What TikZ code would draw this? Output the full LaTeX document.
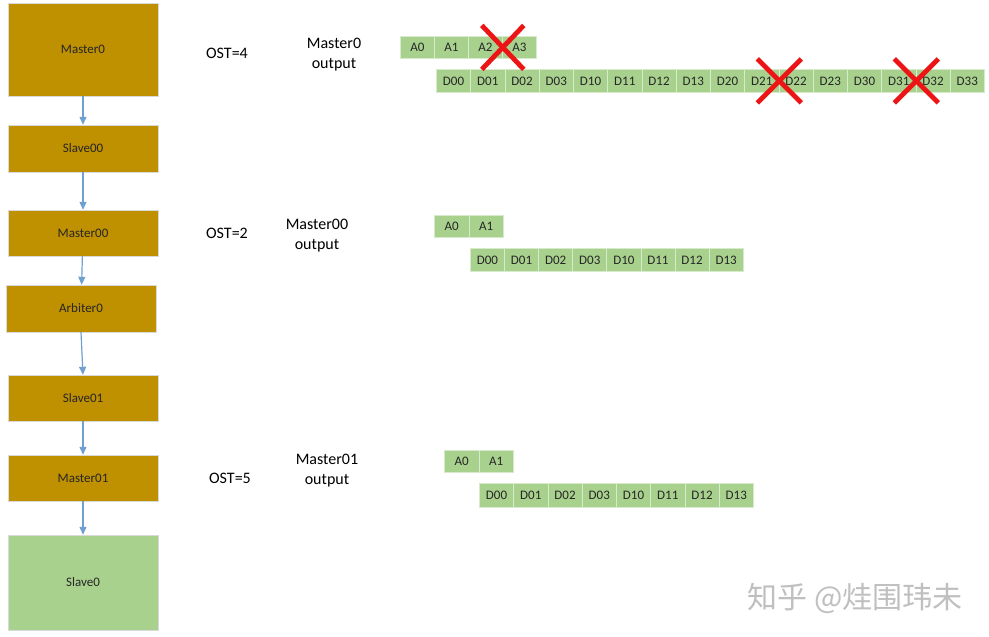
\documentclass[tikz,border=0pt]{standalone}
\usepackage{fontspec}
\setmainfont{Carlito}
\newfontfamily\cjk{Noto Sans CJK SC}
\usetikzlibrary{arrows.meta}
\definecolor{gold}{RGB}{191,144,0}
\definecolor{lgreen}{RGB}{169,209,142}
\definecolor{arrowblue}{RGB}{112,160,208}
\definecolor{xred}{RGB}{236,20,20}
\begin{document}
\begin{tikzpicture}[x=1pt,y=-1pt,font=\fontsize{13}{15}\selectfont,
  blk/.style={draw=black!15, fill=gold, minimum width=150pt, inner sep=0pt, text=black!85},
  greenblk/.style={blk, fill=lgreen},
  cell/.style={draw=white!55!lgreen, line width=0.8pt, fill=lgreen, inner sep=0pt, anchor=north west, text=black!85},
  flow/.style={draw=arrowblue, line width=1.2pt, -{Triangle[width=7pt,length=8pt]}},
  xmark/.style={draw=xred, line width=4.8pt},
  lbl/.style={align=center, text=black, font=\fontsize{16}{19.5}\selectfont}]
\useasboundingbox[fill=white] (0,0) rectangle (989,637);

% left column
\node[blk, minimum height=93pt] (m0) at (83,49.5) {Master0};
\node[blk, minimum height=47pt] (s00) at (83,148.5) {Slave00};
\node[blk, minimum height=46pt] (m00) at (83,233) {Master00};
\node[blk, minimum height=47pt] (arb) at (81,308.5) {Arbiter0};
\node[blk, minimum height=46pt] (s01) at (83,398) {Slave01};
\node[blk, minimum height=46pt] (m01) at (83,478) {Master01};
\node[greenblk, minimum height=95pt] (s0) at (83,582.5) {Slave0};

\draw[flow] (m0) -- (s00);
\draw[flow] (s00) -- (m00);
\draw[flow] (m00) -- (arb);
\draw[flow] (arb.south) -- (s01.north);
\draw[flow] (s01) -- (m01);
\draw[flow] (m01) -- (s0);

% labels
\node[lbl] (ost4) at (227,53) {OST=4};
\node[lbl] (o0) at (334,54.5) {Master0\\output};
\node[lbl] (ost2) at (227,233) {OST=2};
\node[lbl] (o00) at (317,235.5) {Master00\\output};
\node[lbl] (ost5) at (230,478) {OST=5};
\node[lbl] (o01) at (327,470.5) {Master01\\output};

% row 1
\foreach \t [count=\i from 0] in {A0,A1,A2,A3}
  \node[cell, minimum width=34pt, minimum height=22pt] (r1a\i) at ({400+34*\i},36) {\t};
\foreach \t [count=\i from 0] in {D00,D01,D02,D03,D10,D11,D12,D13,D20,D21,D22,D23,D30,D31,D32,D33}
  \node[cell, minimum width=34.25pt, minimum height=23pt] (r1d\i) at ({436+34.25*\i},69) {\t};

% row 2
\foreach \t [count=\i from 0] in {A0,A1}
  \node[cell, minimum width=34.5pt, minimum height=22pt] (r2a\i) at ({434+34.5*\i},215) {\t};
\foreach \t [count=\i from 0] in {D00,D01,D02,D03,D10,D11,D12,D13}
  \node[cell, minimum width=34.1pt, minimum height=23pt] (r2d\i) at ({470+34.1*\i},248) {\t};

% row 3
\foreach \t [count=\i from 0] in {A0,A1}
  \node[cell, minimum width=34.5pt, minimum height=22pt] (r3a\i) at ({444+34.5*\i},450) {\t};
\foreach \t [count=\i from 0] in {D00,D01,D02,D03,D10,D11,D12,D13}
  \node[cell, minimum width=34.25pt, minimum height=24pt] (r3d\i) at ({479+34.25*\i},483) {\t};

% crosses
\draw[xmark] ([shift={(-21,-22)}]r1a2.east) -- ([shift={(21,22)}]r1a2.east);
\draw[xmark] ([shift={(21,-22)}]r1a2.east) -- ([shift={(-21,22)}]r1a2.east);
\draw[xmark] ([shift={(-22,-22)}]r1d9.east) -- ([shift={(22,22)}]r1d9.east);
\draw[xmark] ([shift={(22,-22)}]r1d9.east) -- ([shift={(-22,22)}]r1d9.east);
\draw[xmark] ([shift={(-22,-22)}]r1d13.east) -- ([shift={(22,22)}]r1d13.east);
\draw[xmark] ([shift={(22,-22)}]r1d13.east) -- ([shift={(-22,22)}]r1d13.east);

% watermark
\node[text=black!25, font=\cjk\fontsize{30}{33}\selectfont] (wm) at (855,598) {知乎 @烓围玮未};
\end{tikzpicture}
\end{document}
